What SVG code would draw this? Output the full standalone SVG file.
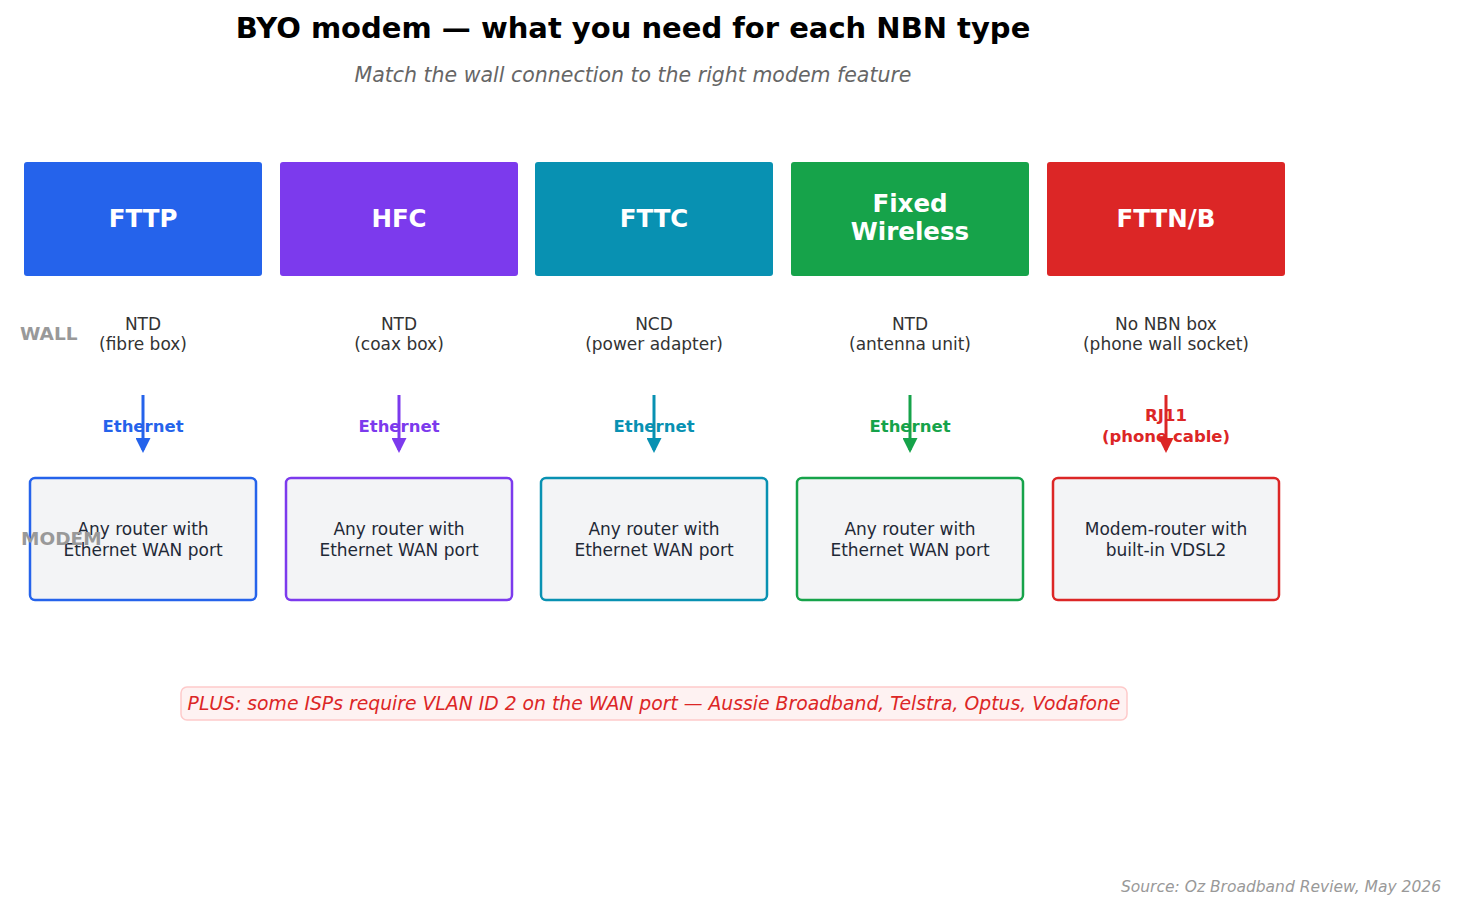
<svg xmlns="http://www.w3.org/2000/svg" width="1457" height="910" viewBox="0 0 1457 910">
<style>
text{font-family:"DejaVu Sans",sans-serif}
.hd{font-size:24.5px;font-weight:bold;fill:#fff;text-anchor:middle}
.wl{font-size:17px;fill:#333;text-anchor:middle}
.md{font-size:17px;fill:#1f2937;text-anchor:middle}
.lb{font-size:16.5px;font-weight:bold;text-anchor:middle}
.side{font-size:18.5px;font-weight:bold;fill:#999}
.mb{fill:#f3f4f6;stroke-width:2.5}
</style>
<defs>
<marker id="a1" viewBox="0 0 10 10" refX="8" refY="5" markerWidth="5" markerHeight="5" orient="auto"><path d="M0,0L10,5L0,10z" fill="#2563eb"/></marker>
<marker id="a2" viewBox="0 0 10 10" refX="8" refY="5" markerWidth="5" markerHeight="5" orient="auto"><path d="M0,0L10,5L0,10z" fill="#7c3aed"/></marker>
<marker id="a3" viewBox="0 0 10 10" refX="8" refY="5" markerWidth="5" markerHeight="5" orient="auto"><path d="M0,0L10,5L0,10z" fill="#0891b2"/></marker>
<marker id="a4" viewBox="0 0 10 10" refX="8" refY="5" markerWidth="5" markerHeight="5" orient="auto"><path d="M0,0L10,5L0,10z" fill="#16a34a"/></marker>
<marker id="a5" viewBox="0 0 10 10" refX="8" refY="5" markerWidth="5" markerHeight="5" orient="auto"><path d="M0,0L10,5L0,10z" fill="#dc2626"/></marker>
</defs>
<rect width="1457" height="910" fill="#fff"/>
<text x="633" y="38" text-anchor="middle" style="font-size:29px;font-weight:bold" fill="#000">BYO modem — what you need for each NBN type</text>
<text x="633" y="82" text-anchor="middle" style="font-size:20.5px;font-style:italic" fill="#666">Match the wall connection to the right modem feature</text>

<g id="fttp">
<rect x="24" y="162" width="238" height="114" rx="3" fill="#2563eb"/>
<text x="143" y="227" class="hd">FTTP</text>
<text x="143" y="330" class="wl">NTD</text><text x="143" y="350" class="wl">(fibre box)</text>
<rect x="30" y="478" width="226" height="122" rx="5" class="mb" stroke="#2563eb"/>
<text x="143" y="535" class="md">Any router with</text><text x="143" y="556" class="md">Ethernet WAN port</text>
</g>
<g id="hfc">
<rect x="280" y="162" width="238" height="114" rx="3" fill="#7c3aed"/>
<text x="399" y="227" class="hd">HFC</text>
<text x="399" y="330" class="wl">NTD</text><text x="399" y="350" class="wl">(coax box)</text>
<rect x="286" y="478" width="226" height="122" rx="5" class="mb" stroke="#7c3aed"/>
<text x="399" y="535" class="md">Any router with</text><text x="399" y="556" class="md">Ethernet WAN port</text>
</g>
<g id="fttc">
<rect x="535" y="162" width="238" height="114" rx="3" fill="#0891b2"/>
<text x="654" y="227" class="hd">FTTC</text>
<text x="654" y="330" class="wl">NCD</text><text x="654" y="350" class="wl">(power adapter)</text>
<rect x="541" y="478" width="226" height="122" rx="5" class="mb" stroke="#0891b2"/>
<text x="654" y="535" class="md">Any router with</text><text x="654" y="556" class="md">Ethernet WAN port</text>
</g>
<g id="fw">
<rect x="791" y="162" width="238" height="114" rx="3" fill="#16a34a"/>
<text x="910" y="212" class="hd">Fixed</text><text x="910" y="240" class="hd">Wireless</text>
<text x="910" y="330" class="wl">NTD</text><text x="910" y="350" class="wl">(antenna unit)</text>
<rect x="797" y="478" width="226" height="122" rx="5" class="mb" stroke="#16a34a"/>
<text x="910" y="535" class="md">Any router with</text><text x="910" y="556" class="md">Ethernet WAN port</text>
</g>
<g id="fttn">
<rect x="1047" y="162" width="238" height="114" rx="3" fill="#dc2626"/>
<text x="1166" y="227" class="hd">FTTN/B</text>
<text x="1166" y="330" class="wl">No NBN box</text><text x="1166" y="350" class="wl">(phone wall socket)</text>
<rect x="1053" y="478" width="226" height="122" rx="5" class="mb" stroke="#dc2626"/>
<text x="1166" y="535" class="md">Modem-router with</text><text x="1166" y="556" class="md">built-in VDSL2</text>
</g>

<g id="connectors" stroke-width="3" fill="none">
<line x1="143" y1="395" x2="143" y2="450" stroke="#2563eb" marker-end="url(#a1)"/>
<line x1="399" y1="395" x2="399" y2="450" stroke="#7c3aed" marker-end="url(#a2)"/>
<line x1="654" y1="395" x2="654" y2="450" stroke="#0891b2" marker-end="url(#a3)"/>
<line x1="910" y1="395" x2="910" y2="450" stroke="#16a34a" marker-end="url(#a4)"/>
<line x1="1166" y1="395" x2="1166" y2="450" stroke="#dc2626" marker-end="url(#a5)"/>
</g>
<text x="143" y="432" class="lb" fill="#2563eb">Ethernet</text>
<text x="399" y="432" class="lb" fill="#7c3aed">Ethernet</text>
<text x="654" y="432" class="lb" fill="#0891b2">Ethernet</text>
<text x="910" y="432" class="lb" fill="#16a34a">Ethernet</text>
<text x="1166" y="421" class="lb" fill="#dc2626">RJ11</text>
<text x="1166" y="442" class="lb" fill="#dc2626">(phone cable)</text>

<text x="20" y="340" class="side">WALL</text>
<text x="21" y="545" class="side">MODEM</text>

<rect x="181" y="687" width="946" height="33" rx="6" fill="#fef2f2" stroke="#fecaca" stroke-width="1.5"/>
<text x="654" y="710" text-anchor="middle" style="font-size:18.8px;font-style:italic" fill="#dc2626">PLUS: some ISPs require VLAN ID 2 on the WAN port — Aussie Broadband, Telstra, Optus, Vodafone</text>
<text x="1441" y="892" text-anchor="end" style="font-size:15.5px;font-style:italic" fill="#999">Source: Oz Broadband Review, May 2026</text>
</svg>
